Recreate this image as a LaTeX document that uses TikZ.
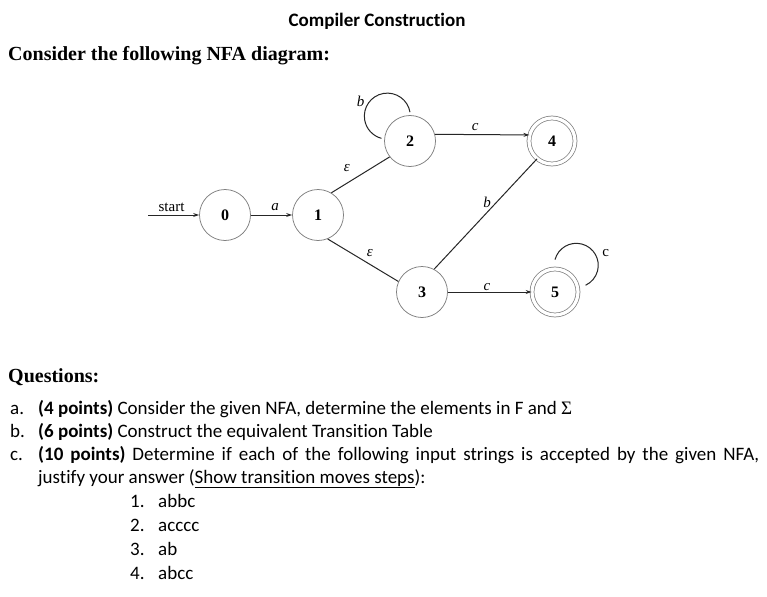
\documentclass[tikz,border=0pt]{standalone}
\usepackage{fontspec}
\setmainfont{Liberation Serif}
\newfontfamily\carl[Ligatures={NoCommon,NoContextual,NoRare},RawFeature={-liga;-clig}]{Carlito}
\newfontfamily\timesf{Liberation Serif}
\usetikzlibrary{arrows.meta}
\begin{document}
\begin{tikzpicture}[x=1pt,y=-1pt,
  state/.style={circle, draw=black!50, line width=0.75pt, minimum size=51pt, inner sep=0pt,
    font=\bfseries\fontsize{16}{16}\selectfont},
  accept/.style={state, minimum size=46pt, double=white, double distance=3.2pt},
  edgeline/.style={draw=black!85, line width=1pt},
  arr/.style={edgeline, -{Stealth[length=6pt,width=4pt]}},
  lab/.style={font=\itshape\fontsize{15}{15}\selectfont, inner sep=0pt},
  txt/.style={inner sep=0pt, anchor=base west, font=\carl\fontsize{19}{23.5}\selectfont},
  head/.style={inner sep=0pt, anchor=base west, font=\bfseries\fontsize{20}{24}\selectfont}]
\useasboundingbox (0,0) rectangle (767,596);
\fill[white] (0,0) rectangle (767,596);

% title and headings
\node[inner sep=0pt, anchor=base, font=\carl\bfseries\fontsize{19}{23}\selectfont] (title) at (377,27) {Compiler Construction};
\node[head] (consider) at (8,61) {Consider the following NFA diagram:};
\node[head] (questions) at (8,382) {Questions:};

% NFA
\coordinate (start) at (148,215);
\node[state] (n0) at (225,215) {0};
\node[state] (n1) at (318,215) {1};
\node[state] (n2) at (410,141) {2};
\node[accept] (n4) at (552,141) {4};
\node[state] (n3) at (422,292) {3};
\node[accept] (n5) at (555,292) {5};

\draw[arr] (start) -- node[midway, inner sep=0pt, font=\fontsize{15}{15}\selectfont, xshift=-2pt, yshift=8pt] {start} (n0);
\draw[arr] (n0) -- node[midway, lab, xshift=3.5pt, yshift=8pt] {a} (n1);
\draw[edgeline] (n1.59) -- node[midway, lab, xshift=-13.6pt, yshift=7pt] {ε} (n2.218);
\draw[edgeline] (n1.-68) -- node[midway, lab, xshift=6.7pt, yshift=7pt] {ε} (n3.156);
\draw[arr] (n2.15) -- node[midway, lab, xshift=-7pt, yshift=7.8pt] {c} (n4.165);
\draw[edgeline] (n3.62) -- node[midway, lab, xshift=1.5pt, yshift=12pt] {b} (n4.230);
\draw[arr] (n3) -- node[midway, lab, xshift=-2.8pt, yshift=5pt] {c} (n5);
\draw[edgeline] (n2.north) ++(0,-3) arc[start angle=-10, end angle=-255, radius=23]
  node[pos=0.607, lab, anchor=south east, xshift=-1pt, yshift=1pt] {b};
\draw[edgeline] (n5.north) ++(0,-9) arc[start angle=-165, end angle=65, radius=22]
  node[pos=0.626, anchor=south west, inner sep=0pt, font=\fontsize{15}{15}\selectfont, xshift=5pt] {c};

% questions
\node[txt] (la) at (10,414) {a.};
\node[txt] (ta) at (38,414) {\textbf{(4 points)} Consider the given NFA, determine the elements in F and {\timesf Σ}};
\node[txt] (lb) at (10,437) {b.};
\node[txt] (tb) at (38,437) {\textbf{(6 points)} Construct the equivalent Transition Table};
\node[txt] (lc) at (10,460) {c.};
\node[txt] (tc) at (38,460) {\makebox[721pt][s]{\textbf{(10 points)} Determine if each of the following input strings is accepted by the given NFA,}};
\node[txt] (tc2) at (38,483) {justify your answer (\underline{Show transition moves steps}):};
\node[txt] (l1) at (130,507) {1.};
\node[txt] (t1) at (158,507) {abbc};
\node[txt] (l2) at (130,531) {2.};
\node[txt] (t2) at (158,531) {acccc};
\node[txt] (l3) at (130,555) {3.};
\node[txt] (t3) at (158,555) {ab};
\node[txt] (l4) at (130,579) {4.};
\node[txt] (t4) at (158,579) {abcc};
\end{tikzpicture}
\end{document}
